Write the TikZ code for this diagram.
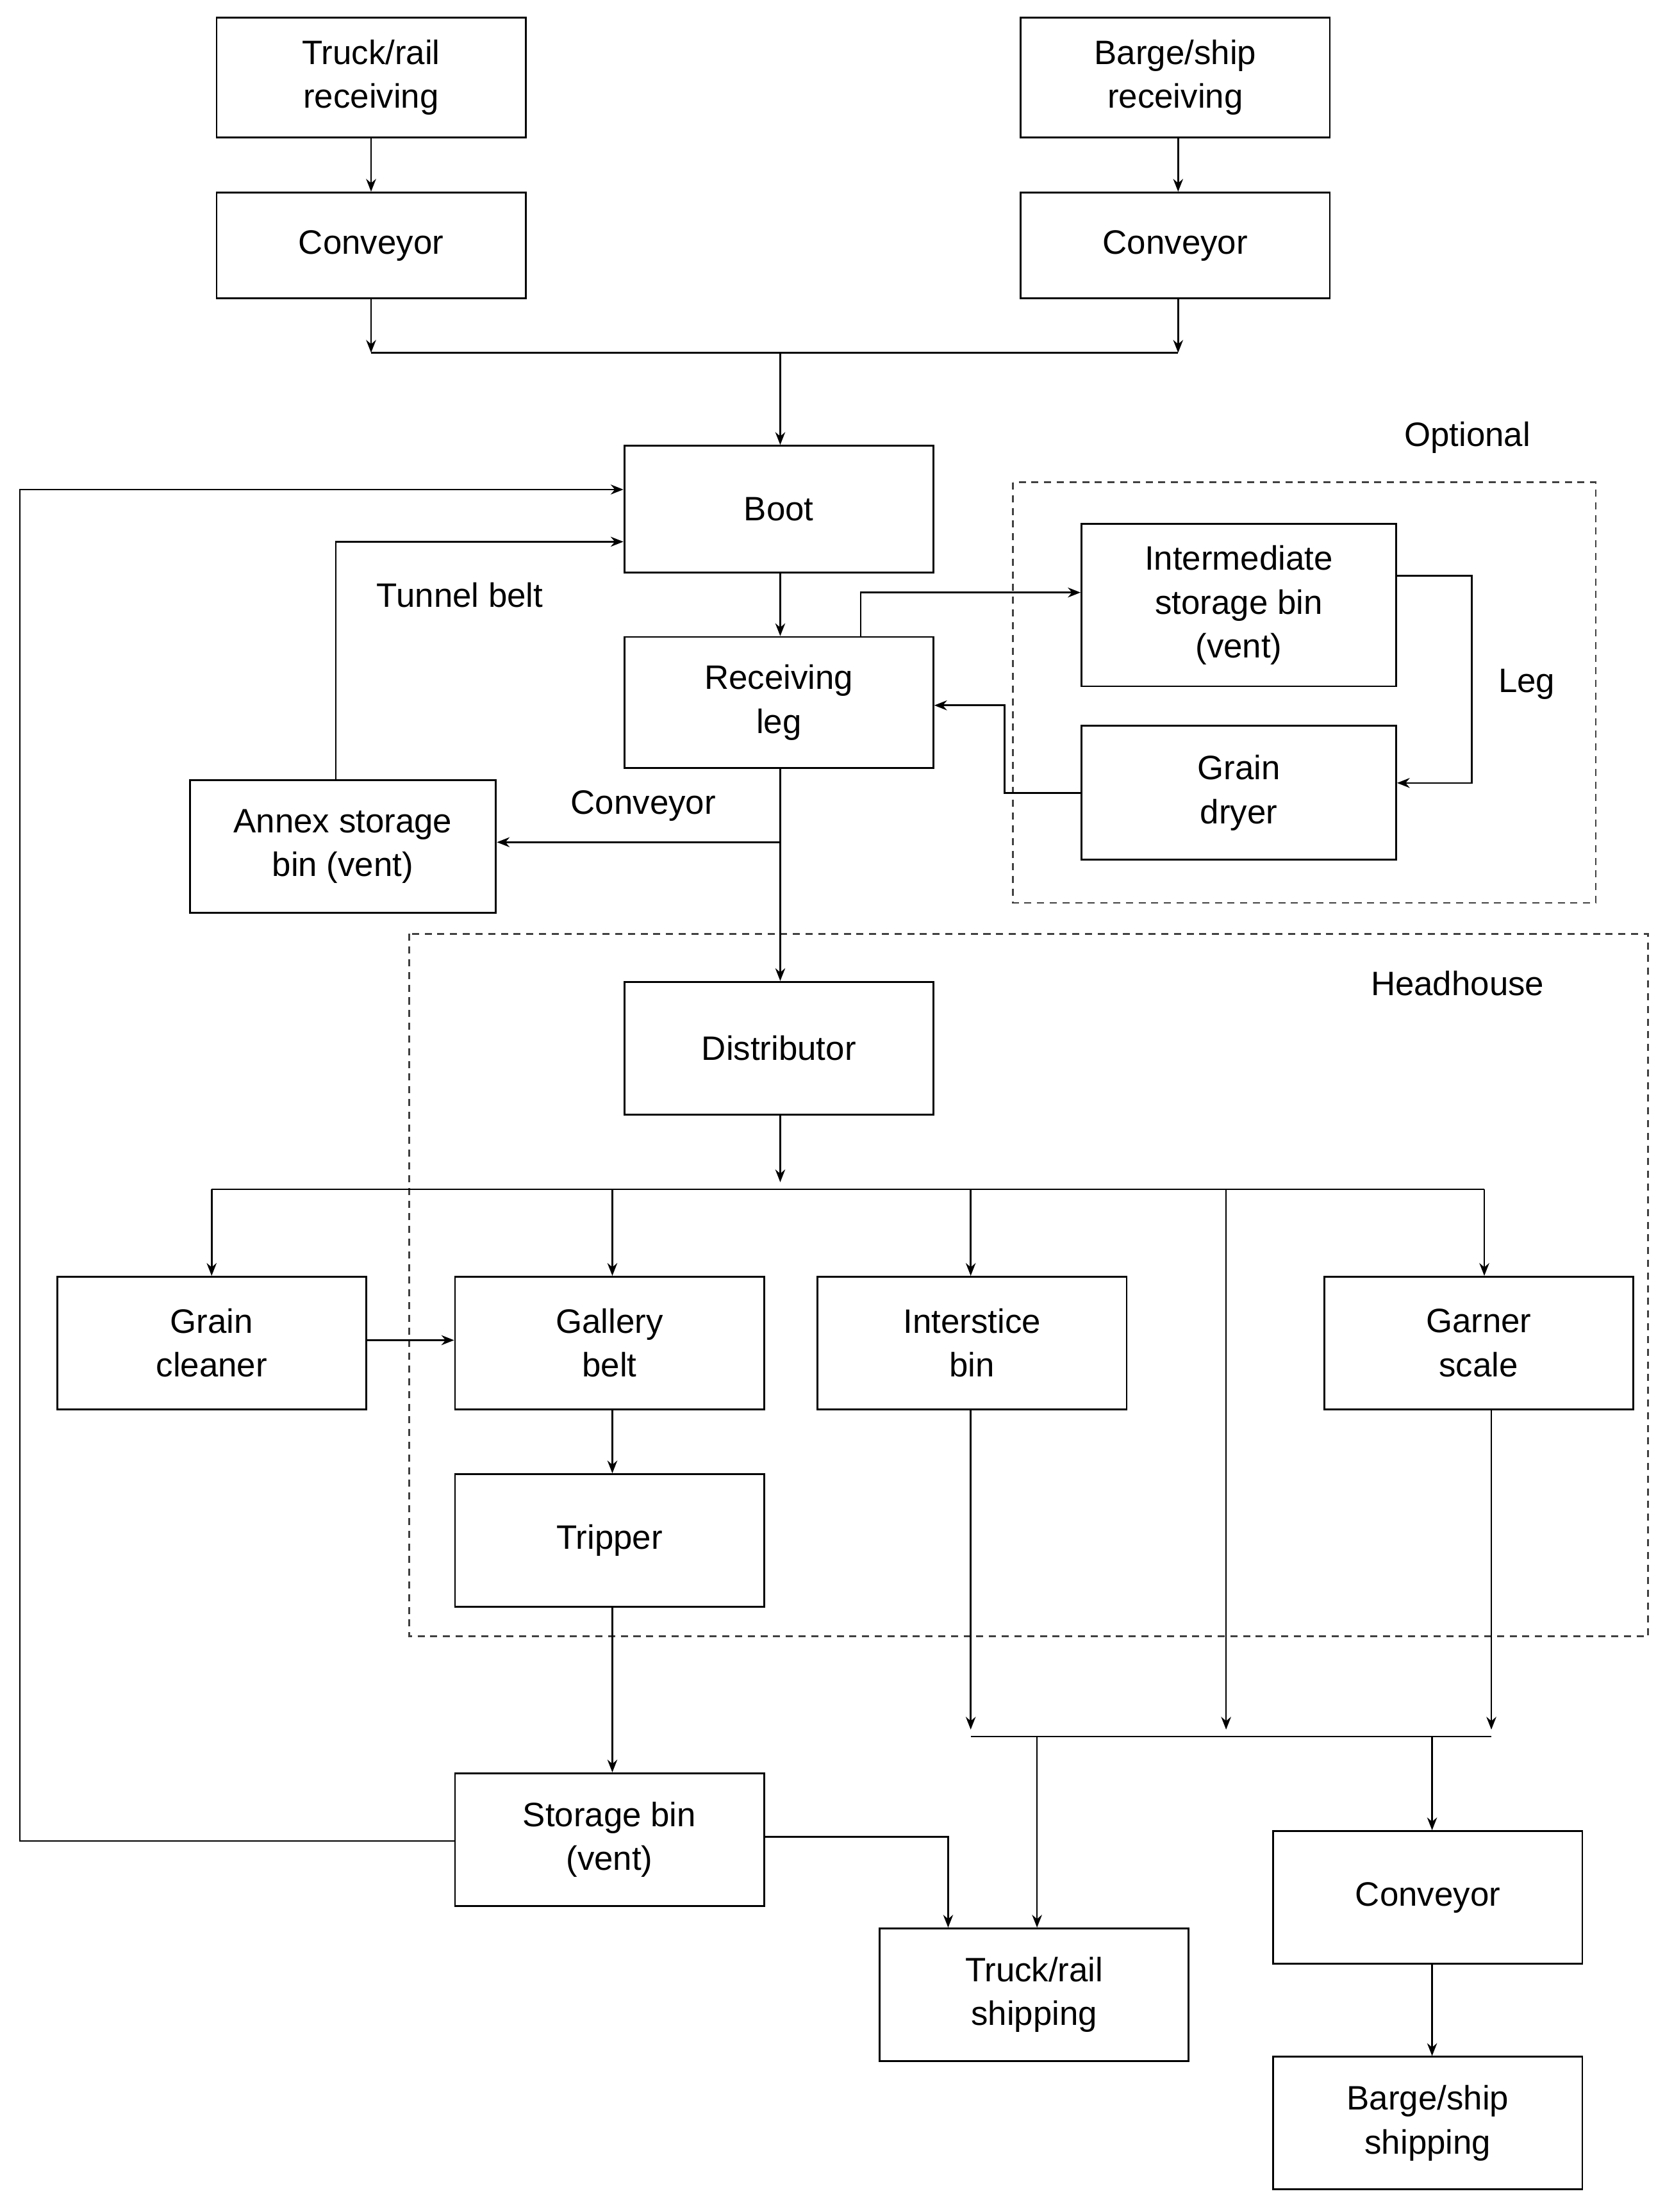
\documentclass[tikz,border=0pt]{standalone}
\usepackage{fontspec}
\setmainfont{Liberation Sans}
\usetikzlibrary{arrows.meta}
\begin{document}
\begin{tikzpicture}[x=1pt,y=-1pt,
  box/.style={draw,line width=1.3pt,minimum width=219pt,minimum height=94pt,align=center,inner sep=0pt,font=\fontsize{24}{31}\selectfont},
  lbl/.style={font=\fontsize{24}{31}\selectfont},
  ar/.style={-{Stealth[length=9pt,width=7pt]},line width=1.2pt},
  ln/.style={line width=1.2pt},
  dsh/.style={dashed,line width=1.3pt,dash pattern=on 5pt off 4pt,draw=black!75}]
\useasboundingbox (0,0) rectangle (1180,1568);
\node[box,minimum height=85pt] (trr) at (263,55) {Truck/rail\\receiving};
\node[box,minimum height=85pt] (bsr) at (833,55) {Barge/ship\\receiving};
\node[box,minimum height=75pt] (c1) at (263,174) {Conveyor};
\node[box,minimum height=75pt] (c2) at (833,174) {Conveyor};
\node[box,minimum height=90pt] (boot) at (552,361) {Boot};
\node[box,minimum height=93pt] (leg) at (552,498) {Receiving\\leg};
\node[box,minimum width=223pt,minimum height=115pt] (isb) at (878,429) {Intermediate\\storage bin\\(vent)};
\node[box,minimum width=223pt,minimum height=95pt] (gd) at (878,562) {Grain\\dryer};
\node[box,minimum width=217pt] (annex) at (243,600) {Annex storage\\bin (vent)};
\node[box] (dist) at (552,743) {Distributor};
\node[box] (gc) at (150,952) {Grain\\cleaner};
\node[box] (gb) at (432,952) {Gallery\\belt};
\node[box] (ib) at (689,952) {Interstice\\bin};
\node[box] (gs) at (1048,952) {Garner\\scale};
\node[box] (trip) at (432,1092) {Tripper};
\node[box] (sb) at (432,1304) {Storage bin\\(vent)};
\node[box] (trs) at (733,1414) {Truck/rail\\shipping};
\node[box] (c3) at (1012,1345) {Conveyor};
\node[box] (bss) at (1012,1505) {Barge/ship\\shipping};
\draw[dsh] (718,342) rectangle (1131,640);
\draw[dsh] (290,662) rectangle (1168,1160);
\node[lbl] (opt) at (1040,310) {Optional};
\node[lbl] (hh) at (1033,697) {Headhouse};
\node[lbl] (lg) at (1082,485) {Leg};
\node[lbl] (tb) at (326,422) {Tunnel belt};
\node[lbl] (cv) at (456,571) {Conveyor};
\coordinate (m1) at (263,250); \coordinate (m2) at (835,250); \coordinate (m0) at (553,250);
\draw[ar] (trr) -- (c1);
\draw[ar] (bsr.south -| 835,0) -- (c2.north -| 835,0);
\draw[ar] (c1) -- (m1);
\draw[ar] (c2.south -| m2) -- (m2);
\draw[ln] (m1) -- (m2);
\draw[ar] (m0) -- (boot.north -| m0);
\draw[ar] (boot.south -| m0) -- (leg.north -| m0);
\draw[ar] (leg.north -| 610,0) -- (610,420) -- (isb.west |- 0,420);
\draw[ar] (isb.east |- 0,408) -- (1043,408) -- (1043,555) -- (gd.east |- 0,555);
\draw[ar] (gd.west) -- (712,562) -- (712,500) -- (leg.east |- 0,500);
\draw[ar] (553,597) -- (annex.east |- 0,597);
\draw[ar] (annex.north -| 238,0) -- (238,384) -- (boot.west |- 0,384);
\draw[ar] (leg.south -| m0) -- (dist.north -| m0);
\coordinate (d0) at (553,843);
\draw[ar] (dist.south -| m0) -- (553,838);
\draw[ln] (150,843) -- (1052,843);
\draw[ar] (150,843) -- (gc.north);
\draw[ar] (434,843) -- (gb.north -| 434,0);
\draw[ar] (688,843) -- (ib.north -| 688,0);
\draw[ar] (1052,843) -- (gs.north -| 1052,0);
\draw[ar] (869,843) -- (869,1226);
\draw[ar] (gc.east |- 0,950) -- (gb.west |- 0,950);
\draw[ar] (gb.south -| 434,0) -- (trip.north -| 434,0);
\draw[ar] (trip.south -| 434,0) -- (sb.north -| 434,0);
\draw[ar] (ib.south -| 688,0) -- (688,1226);
\draw[ar] (gs.south -| 1057,0) -- (1057,1226);
\draw[ln] (688,1231) -- (1057,1231);
\draw[ar] (735,1231) -- (trs.north -| 735,0);
\draw[ar] (1015,1231) -- (c3.north -| 1015,0);
\draw[ar] (sb.east |- 0,1302) -- (672,1302) -- (trs.north -| 672,0);
\draw[ar] (c3.south -| 1015,0) -- (bss.north -| 1015,0);
\draw[ar] (sb.west |- 0,1305) -- (14,1305) -- (14,347) -- (boot.west |- 0,347);
\end{tikzpicture}
\end{document}
